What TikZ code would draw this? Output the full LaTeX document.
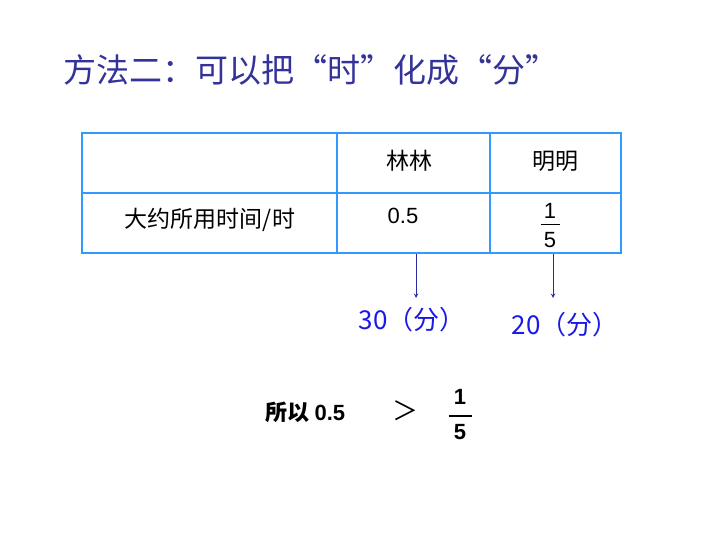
\documentclass[tikz,border=0pt]{standalone}
\usepackage{fontspec}
\setmainfont{Liberation Sans}
\newfontfamily\cjk{Noto Sans CJK SC}
\begin{document}
\begin{tikzpicture}[x=1pt,y=-1pt,
  cell/.style={draw=tblue,line width=1.5pt},
  txt/.style={font=\fontsize{23}{25}\selectfont\cjk},
  num/.style={font=\fontsize{22}{24}\selectfont,inner sep=1pt},
  hand/.style={text=handblue,font=\fontsize{26}{28}\selectfont\cjk},
  arr/.style={draw=navy,line width=1pt,-stealth}]
\definecolor{tblue}{HTML}{3399FF}
\definecolor{navy}{HTML}{2B2BA0}
\definecolor{handblue}{HTML}{1A1AE6}
\definecolor{titleblue}{HTML}{333399}
\useasboundingbox (0,0) rectangle (720,540);
\node[anchor=west,text=titleblue,font=\fontsize{33}{35}\selectfont\cjk] (title) at (60,70) {方法二：可以把“时”化成“分”};
\draw[cell] (82,133) rectangle (621,253);
\draw[cell] (82,193) -- (621,193);
\draw[cell] (337,133) -- (337,253);
\draw[cell] (490,133) -- (490,253);
\node[txt] (h1) at (409,161) {林林};
\node[txt] (h2) at (555,161) {明明};
\node[txt] (r) at (210,220) {大约所用时间/时};
\node[num] (v1) at (403,216) {0.5};
\node[num] (n2) at (550,211) {1};
\node[num] (d2) at (550,240) {5};
\draw[line width=1pt] (541,225) -- (560,225);
\coordinate (a1) at (416,254);
\coordinate (a2) at (553,254);
\node[hand] (m1) at (412,320) {30（分）};
\node[hand] (m2) at (565,325) {20（分）};
\draw[arr] (a1) -- (416,298);
\draw[arr] (a2) -- (553,298);
\node[anchor=west,font=\fontsize{22}{24}\selectfont\cjk\bfseries] (so) at (262,412) {所以 \fontspec{Liberation Sans}\bfseries 0.5};
\node[font=\fontsize{26}{28}\selectfont\cjk] (gt) at (405,411) {＞};
\node[num,font=\fontsize{22}{24}\selectfont\bfseries] (n3) at (460,397) {1};
\node[num,font=\fontsize{22}{24}\selectfont\bfseries] (d3) at (460,432) {5};
\draw[line width=1.5pt] (449,416) -- (472,416);
\end{tikzpicture}
\end{document}
